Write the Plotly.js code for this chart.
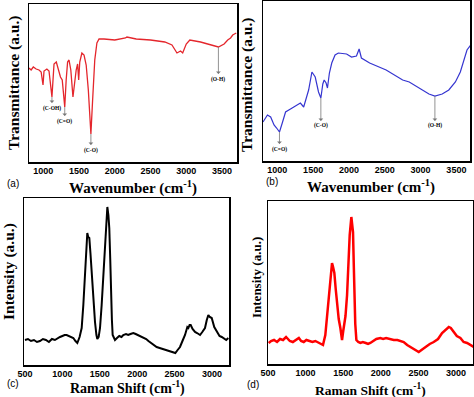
<!DOCTYPE html>
<html><head><meta charset="utf-8">
<script src="https://cdn.plot.ly/plotly-3.0.1.min.js"></script>
<style>html,body{margin:0;padding:0;background:#fff}#c{width:474px;height:397px}</style>
</head><body><div id="c"></div>
<script>
// (a) FTIR red
const ftirA_x = [800,830,860,900,940,970,996,1010,1050,1080,1121,1135,1150,1182,1215,1240,1265,1300,1320,1340,1360,1385,1415,1440,1460,1480,1495,1510,1540,1570,1600,1630,1666,1690,1720,1750,1780,1850,2000,2150,2170,2300,2500,2700,2800,2870,2920,2950,3000,3050,3200,3350,3450,3530,3580,3620,3650,3700];
const ftirA_y = [94,92,95,93,92,90,77,91,93,91,65,87,98,100,92,85,82,55,82,100,102,92,65,82,92,98,82,100,109,107,97,72,28,62,102,119,123,123,122,124,125,123,122,120,117,109,111,109,118,122,120,117,115,118,122,124,127,129];
// (b) FTIR blue
const ftirB_x = [800,862,907,954,990,1030,1069,1115,1184,1276,1322,1368,1437,1483,1529,1575,1608,1635,1654,1681,1700,1727,1760,1806,1852,1967,2036,2105,2142,2174,2289,2519,2750,2842,2980,3117,3200,3302,3394,3486,3555,3601,3648,3700];
const ftirB_y = [39,46,44,36,33,29,38,49,52,56,58,54,71,89,84,69,63,77,81,78,73,88,98,106,108,107,104,105,112,103,98,91,81,79,73,67,65,67,71,79,89,99,111,116];
// (c) Raman black
const ramanC_x = [500,540,580,620,660,700,740,780,820,860,900,940,968,1000,1030,1057,1090,1120,1146,1175,1200,1230,1258,1280,1302,1320,1333,1345,1360,1375,1391,1410,1436,1455,1467,1485,1503,1525,1547,1565,1583,1601,1615,1627,1640,1650,1662,1672,1690,1703,1730,1760,1790,1814,1850,1880,1910,1948,1980,2010,2050,2082,2120,2150,2171,2200,2230,2260,2300,2340,2394,2430,2460,2483,2510,2540,2572,2605,2639,2670,2684,2700,2715,2740,2773,2800,2820,2840,2870,2906,2930,2951,2970,2996,3030,3063,3100,3130,3160,3190,3219];
const ramanC_y = [25,26,24,25,23,24,26,25,23,26,25,27,28,29,30,30,29,28,27,24,22,28,37,60,87,115,132,128,127,112,93,68,43,30,26,28,37,60,87,118,143,158,150,137,105,70,45,30,26,25,27,29,28,30,31,30,31,32,31,30,29,28,26,24,23,21,20,18,17,16,15,14,13,13,12,15,18,24,30,38,37,40,40,36,33,32,31,30,33,37,45,50,48,47,38,33,29,28,26,25,27];
// (d) Raman red
const ramanD_x = [509,540,580,620,660,700,740,753,790,830,870,910,940,975,1010,1050,1090,1130,1174,1200,1231,1262,1285,1307,1330,1351,1365,1382,1400,1418,1440,1462,1484,1500,1515,1530,1551,1570,1586,1608,1620,1630,1640,1648,1660,1675,1700,1728,1760,1800,1830,1860,1900,1940,1993,2030,2070,2120,2171,2220,2260,2304,2350,2392,2430,2460,2504,2540,2592,2650,2703,2760,2814,2860,2903,2930,2969,3010,3057,3100,3146,3190,3235];
const ramanD_y = [21,23,24,22,25,24,27,26,23,22,24,26,23,22,24,23,22,23,21,20,19,29,48,69,90,101,97,91,75,59,45,36,24,33,42,48,69,100,129,147,140,132,100,69,40,24,22,21,22,21,20,21,23,25,26,25,26,25,24,24,23,22,19,17,15,14,12,14,17,20,22,25,31,34,37,36,32,28,26,22,21,19,17];
const ftirTicks = [1000,1500,2000,2500,3000,3500];
const ramanTicks = [500,1000,1500,2000,2500,3000];
const labelsA = [["(C-OH)",1121,65,11],["(C=O)",1300,55,14],["(C-O)",1666,28,16],["(O-H)",3450,115,32]];
const labelsB = [["(C=O)",1030,29,17],["(C-O)",1608,63,28],["(O-H)",3200,65,30]];

const W=474,H=397;
const px=x=>x/W, py=y=>1-y/H;
const tickFont={family:'Liberation Sans, Arial',size:9,color:'#000',weight:'bold'};
function xa(dom,range,ticks,anchor){return {domain:dom,range:range,tickvals:ticks,ticktext:ticks.map(String),ticks:'',ticklen:0,showgrid:false,zeroline:false,showline:true,mirror:true,linecolor:'#000',linewidth:1.5,tickfont:tickFont,anchor:anchor};}
function ya(dom,range,anchor){return {domain:dom,range:range,showticklabels:false,ticks:'',showgrid:false,zeroline:false,showline:true,mirror:true,linecolor:'#000',linewidth:1.5,anchor:anchor};}

const traces=[
 {x:ftirA_x,y:ftirA_y,xaxis:'x',yaxis:'y',mode:'lines',line:{color:'#e4262c',width:1.3},hoverinfo:'skip'},
 {x:ftirB_x,y:ftirB_y,xaxis:'x2',yaxis:'y2',mode:'lines',line:{color:'#3535d0',width:1.2},hoverinfo:'skip'},
 {x:ramanC_x,y:ramanC_y,xaxis:'x3',yaxis:'y3',mode:'lines',line:{color:'#000',width:2},hoverinfo:'skip'},
 {x:ramanD_x,y:ramanD_y,xaxis:'x4',yaxis:'y4',mode:'lines',line:{color:'#ff0000',width:2.5},hoverinfo:'skip'}
];
const serifB={family:'Liberation Serif',color:'#000',weight:'bold'};
const ann=[];
function t(text,x,y,size,opts){ann.push(Object.assign({text:text,xref:'paper',yref:'paper',x:px(x),y:py(y),xanchor:'center',yanchor:'middle',showarrow:false,font:Object.assign({},serifB,{size:size})},opts||{}));}
t('Wavenumber (cm<sup>-1</sup>)',133,187,15);
t('Wavenumber (cm<sup>-1</sup>)',371,186,15);
t('Raman Shift (cm<sup>-1</sup>)',127,387,14);
t('Raman Shift (cm<sup>-1</sup>)',370,389,13.5);
t('Transmittance (a.u.)',14,83,15.5,{textangle:-90});
t('Transmittance (a.u.)',247,85,15.5,{textangle:-90});
t('Intensity (a.u.)',9,272,15.5,{textangle:-90});
t('Intensity (a.u.)',256,277,13,{textangle:-90});
const pl={family:'Liberation Sans, Arial',size:10,color:'#000'};
[['(a)',13,183],['(b)',272,182],['(c)',13,383],['(d)',253,384]].forEach(p=>ann.push({text:p[0],xref:'paper',yref:'paper',x:px(p[1]),y:py(p[2]),xanchor:'center',yanchor:'middle',showarrow:false,font:pl}));
function pk(list,xr,yr){list.forEach(l=>ann.push({text:l[0],xref:xr,yref:yr,x:l[1],y:l[2],ax:0,ay:l[3],showarrow:true,arrowside:'start',arrowhead:2,arrowsize:0.8,arrowwidth:0.8,arrowcolor:'#777',standoff:0,startstandoff:0,font:Object.assign({},serifB,{size:5.5})}));}
pk(labelsA,'x','y');
pk(labelsB,'x2','y2');

const layout={width:W,height:H,margin:{l:0,r:0,t:0,b:0},paper_bgcolor:'#fff',plot_bgcolor:'#fff',showlegend:false,
 xaxis:xa([px(29),px(237)],[800,3710],ftirTicks,'y'),
 yaxis:ya([py(162),py(4)],[0,158],'x'),
 xaxis2:xa([px(263),px(470)],[800,3690],ftirTicks,'y2'),
 yaxis2:ya([py(161),py(1)],[0,160],'x2'),
 xaxis3:xa([px(24),px(229)],[487,3227],ramanTicks,'y3'),
 yaxis3:ya([py(365),py(198)],[0,167],'x3'),
 xaxis4:xa([px(268),px(473)],[500,3225],ramanTicks,'y4'),
 yaxis4:ya([py(364),py(201)],[0,163],'x4'),
 annotations:ann};
Plotly.newPlot('c',traces,layout,{staticPlot:true,displayModeBar:false});
</script></body></html>
